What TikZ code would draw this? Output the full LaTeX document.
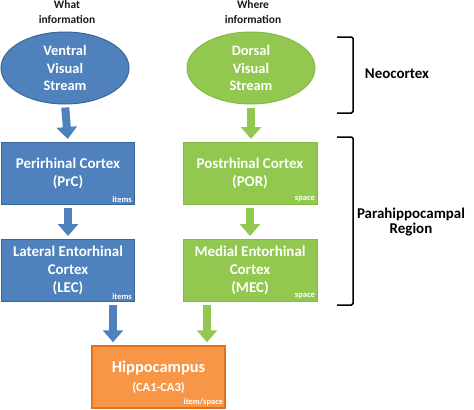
\documentclass[tikz,border=0pt]{standalone}
\usepackage{fontspec}
\setmainfont{Carlito}
\usetikzlibrary{shapes.geometric,arrows.meta}
\definecolor{vblue}{HTML}{4F81BD}
\definecolor{vblueline}{HTML}{3A659A}
\definecolor{dgreen}{HTML}{92C850}
\definecolor{dgreenline}{HTML}{84BA45}
\definecolor{horange}{HTML}{F79646}
\definecolor{horangeline}{HTML}{E2711C}
\definecolor{headtext}{HTML}{1A1A1A}
\begin{document}
\begin{tikzpicture}[x=1bp,y=1bp,
		stream/.style={ellipse,draw,line width=1bp,minimum width=128bp,minimum height=72bp,inner sep=0pt,
			text=white,font=\fontsize{14.5}{18}\selectfont\bfseries,align=center},
		area/.style={rectangle,draw,line width=1bp,minimum width=133bp,minimum height=62bp,inner sep=0pt,
			text=white,font=\fontsize{15}{18}\selectfont\bfseries,align=center},
		tag/.style={anchor=south east,inner sep=2.5bp,text=white,font=\fontsize{8.5}{9}\selectfont\bfseries},
		head/.style={text=headtext,font=\fontsize{11.5}{14.5}\selectfont\bfseries,align=center},
		side/.style={text=black,font=\fontsize{15}{16}\selectfont\bfseries,align=center},
		fatarrow/.style={line width=8bp,-{Triangle[width=20bp,length=12bp]},shorten <=3bp,shorten >=3bp}]
		\useasboundingbox (0,0) rectangle (474,409);
		% headings
		\node[head] (what) at (67,397) {What\\information};
		\node[head] (where) at (253,397) {Where\\information};
		% neocortex
		\node[stream,fill=vblue,draw=vblueline] (vvs) at (65,341) {Ventral\\Visual\\Stream};
		\node[stream,fill=dgreen,draw=dgreenline] (dvs) at (251,341) {Dorsal\\Visual\\Stream};
		% parahippocampal region
		\node[area,fill=vblue,draw=vblueline,minimum width=132bp] (prc) at (68,235.5) {Perirhinal Cortex\\(PrC)};
		\node[area,fill=dgreen,draw=dgreenline,minimum width=134bp] (por) at (250,235.5) {Postrhinal Cortex\\(POR)};
		\node[area,fill=vblue,draw=vblueline,minimum width=132bp] (lec) at (68,138.5) {Lateral Entorhinal\\Cortex\\(LEC)};
		\node[area,fill=dgreen,draw=dgreenline,minimum width=134bp] (mec) at (250,138.5) {Medial Entorhinal\\Cortex\\(MEC)};
		\node[area,fill=horange,draw=horangeline,line width=1.5bp,font=\fontsize{16.5}{19}\selectfont\bfseries] (hip) at (158.5,32)
			{Hippocampus\\{\fontsize{12.5}{15}\selectfont(CA1-CA3)}};
		\node[tag] (prc-t) at (prc.south east) {items};
		\node[tag] (por-t) at (por.south east) {space};
		\node[tag] (lec-t) at (lec.south east) {items};
		\node[tag] (mec-t) at (mec.south east) {space};
		\node[tag] (hip-t) at (hip.south east) {item/space};
		% arrows
		\draw[fatarrow,vblue] (vvs.south) -- (prc.north);
		\draw[fatarrow,dgreen] (dvs.south) -- (dvs.south |- por.north);
		\draw[fatarrow,vblue] (prc.south) -- (lec.north);
		\draw[fatarrow,dgreen] (por.south) -- (mec.north);
		\draw[fatarrow,vblue] ([xshift=45bp]lec.south) -- ([xshift=45bp]lec.south |- hip.north);
		\draw[fatarrow,dgreen] ([xshift=-43bp]mec.south) -- ([xshift=-43bp]mec.south |- hip.north);
		% brackets
		\draw[line width=1.5bp,rounded corners=1.5bp] (337,372)--(353,372)--(353,296)--(337,296);
		\draw[line width=1.5bp,rounded corners=1.5bp] (337,272)--(353,272)--(353,104)--(337,104);
		\node[side] (neo) at (397,335) {Neocortex};
		\node[side] (para) at (411,187) {Parahippocampal\\Region};
	    \end{tikzpicture}
\end{document}
